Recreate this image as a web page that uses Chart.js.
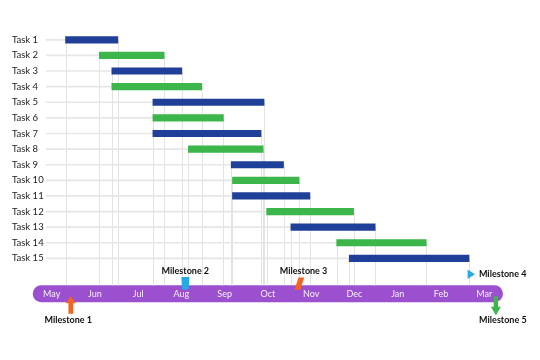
<!DOCTYPE html>
<html><head><meta charset="utf-8">
<style>html,body{margin:0;padding:0;background:#fff}</style>
<script src="https://cdn.jsdelivr.net/npm/chart.js@4.4.1/dist/chart.umd.min.js"></script>
</head><body>
<canvas id="c" width="540" height="360"></canvas>
<script>
// ---- data (time in months, 0 = May) ----
const tasks = ['Task 1','Task 2','Task 3','Task 4','Task 5','Task 6','Task 7','Task 8','Task 9','Task 10','Task 11','Task 12','Task 13','Task 14','Task 15'];
const taskStart = [0.32, 1.10, 1.39, 1.39, 2.34, 2.34, 2.34, 3.16, 4.15, 4.18, 4.18, 4.97, 5.53, 6.59, 6.88];
const taskEnd   = [1.53, 2.60, 3.01, 3.47, 4.91, 3.97, 4.84, 4.89, 5.36, 5.72, 5.97, 6.98, 7.48, 8.66, 9.65];
const months = ['May','Jun','Jul','Aug','Sep','Oct','Nov','Dec','Jan','Feb','Mar'];
const milestoneNames = ['Milestone 1','Milestone 2','Milestone 3','Milestone 4','Milestone 5'];
const milestoneDates = [0.44, 3.09, 5.72, 9.67, 10.27];

// ---- styles ----
const X_MIN = -0.132, X_MAX = 10.435, BAND_START = -0.44;
const BLUE = '#203f98', GREEN = '#3cb54a', PURPLE = '#9b50d0', ORANGE = '#f26522', SKY = '#27a9e1';
const msStyle = [
  {shape:'arrowUp',   color:ORANGE, label:'below', dx:-2.5},
  {shape:'tag',       color:SKY,    label:'above', dx:0},
  {shape:'slant',     color:ORANGE, label:'above', dx:4.5},
  {shape:'triRight',  color:SKY,    label:'right', dx:9},
  {shape:'arrowDown', color:GREEN,  label:'below', dx:7}
];

const bandPlugin = {
  id:'band',
  beforeDraw(chart){
    const {ctx, scales:{x}, chartArea} = chart;
    const top = chartArea.bottom + 19, h = 17;
    const l = x.getPixelForValue(BAND_START), r = x.getPixelForValue(X_MAX);
    ctx.save();
    ctx.fillStyle = PURPLE;
    ctx.beginPath();
    ctx.roundRect(l, top, r - l, h, h/2);
    ctx.fill();
    ctx.restore();
  },
  beforeDatasetsDraw(chart){
    const {ctx, scales:{x,y}, chartArea} = chart;
    const bandTop = chartArea.bottom + 19;
    ctx.save();
    ctx.strokeStyle = '#e3e3e3'; ctx.lineWidth = 1;
    tasks.forEach((t,i)=>{
      const yy = y.getPixelForValue(i);
      [taskStart[i], taskEnd[i]].forEach(v=>{
        const px = Math.round(x.getPixelForValue(v)) + 0.5;
        ctx.beginPath(); ctx.moveTo(px, yy); ctx.lineTo(px, bandTop); ctx.stroke();
      });
    });
    ctx.restore();
  },
  afterDraw(chart){
    const {ctx, scales:{x}, chartArea} = chart;
    const bandTop = chartArea.bottom + 19, bandBot = bandTop + 17;
    ctx.save();
    ctx.font = 'bold 9px Lato';
    ctx.textBaseline = 'middle';
    milestoneDates.forEach((d,i)=>{
      const s = msStyle[i];
      const px = x.getPixelForValue(d);
      ctx.fillStyle = s.color;
      ctx.beginPath();
      if (s.shape === 'arrowUp') {
        const t = bandBot - 6;
        ctx.moveTo(px, t); ctx.lineTo(px+5, t+7); ctx.lineTo(px+2.3, t+7); ctx.lineTo(px+2.3, t+17.5);
        ctx.lineTo(px-2.3, t+17.5); ctx.lineTo(px-2.3, t+7); ctx.lineTo(px-5, t+7); ctx.closePath();
      } else if (s.shape === 'arrowDown') {
        const t = bandBot - 6;
        ctx.moveTo(px-2.2, t); ctx.lineTo(px+2.2, t); ctx.lineTo(px+2.2, t+10.5); ctx.lineTo(px+5, t+10.5);
        ctx.lineTo(px, t+19); ctx.lineTo(px-5, t+10.5); ctx.lineTo(px-2.2, t+10.5); ctx.closePath();
      } else if (s.shape === 'tag') {
        const t = bandTop - 8.3;
        ctx.moveTo(px-4, t); ctx.lineTo(px+4, t); ctx.lineTo(px+3.3, t+12.6); ctx.lineTo(px-3.3, t+12.6); ctx.closePath();
      } else if (s.shape === 'slant') {
        const t = bandTop - 7.7;
        ctx.moveTo(px-0.5, t); ctx.lineTo(px+5, t); ctx.lineTo(px+1.3, t+12.2); ctx.lineTo(px-4.7, t+12.2); ctx.closePath();
      } else if (s.shape === 'triRight') {
        const c = bandTop - 11;
        ctx.moveTo(px-2.3, c-4.8); ctx.lineTo(px+5, c); ctx.lineTo(px-2.3, c+4.8); ctx.closePath();
      }
      ctx.fill();
      ctx.fillStyle = '#111';
      if (s.label === 'below') { ctx.textAlign = 'center'; ctx.fillText(milestoneNames[i], px + s.dx, bandBot + 18); }
      else if (s.label === 'above') { ctx.textAlign = 'center'; ctx.fillText(milestoneNames[i], px + s.dx, bandTop - 14.5); }
      else { ctx.textAlign = 'left'; ctx.fillText(milestoneNames[i], px + s.dx, bandTop - 10.8); }
    });
    ctx.restore();
  }
};

new Chart(document.getElementById('c'), {
  type:'bar',
  data:{
    labels: tasks,
    datasets:[
      { data: tasks.map((t,i)=>[X_MIN, taskStart[i]]), backgroundColor:'#e6e6e6', barThickness:1, grouped:false, order:2 },
      { data: tasks.map((t,i)=>[taskStart[i], taskEnd[i]]), backgroundColor: tasks.map((t,i)=> i%2===0 ? BLUE : GREEN),
        barThickness:6.5, borderWidth:0, borderSkipped:false, grouped:false, order:1 }
    ]
  },
  options:{
    responsive:false, animation:false, indexAxis:'y',
    layout:{padding:{left:12, right:540-503, top:32, bottom:39}},
    plugins:{legend:{display:false}, tooltip:{enabled:false}},
    scales:{
      x:{ type:'linear', min:X_MIN, max:X_MAX, position:'bottom',
          grid:{display:false, drawTicks:false}, border:{display:false},
          afterBuildTicks: s => { s.ticks = months.map((m,i)=>({value:i})); },
          ticks:{ padding:22, color:'rgba(255,255,255,0.92)', font:{family:'Lato', size:9},
                  autoSkip:false, maxRotation:0, callback:(v,i)=>months[i] } },
      y:{ grid:{display:false}, border:{display:false},
          afterFit: s => { s.width = 34; },
          ticks:{ crossAlign:'far', padding:0, autoSkip:false, color:'#222', font:{family:'Lato', size:9.5} } }
    }
  },
  plugins:[bandPlugin]
});
</script>
</body></html>
